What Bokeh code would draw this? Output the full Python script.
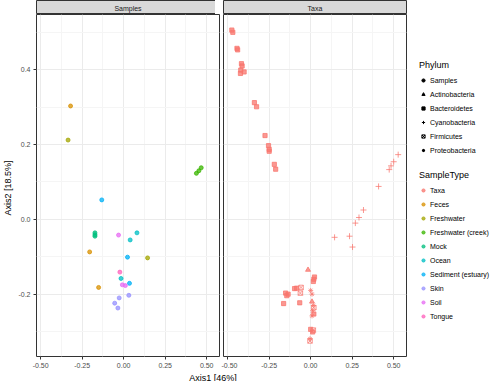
from bokeh.plotting import figure
from bokeh.models import Range1d, FixedTicker, Label, Legend, LegendItem, PrintfTickFormatter
from bokeh.layouts import row, column
from bokeh.embed import file_html
from bokeh.resources import INLINE

FONT = "Liberation Sans"
NAN = float("nan")

# ---- categories -------------------------------------------------------
sample_types = ["Taxa", "Feces", "Freshwater", "Freshwater (creek)", "Mock", "Ocean",
                "Sediment (estuary)", "Skin", "Soil", "Tongue"]
type_colors = ["#F8766D", "#D89000", "#A3A500", "#39B600", "#00BF7D", "#00BFC4",
               "#00B0F6", "#9590FF", "#E76BF3", "#FF62BC"]
phyla = ["Samples", "Actinobacteria", "Bacteroidetes", "Cyanobacteria", "Firmicutes", "Proteobacteria"]
phylum_markers = ["circle", "triangle", "square", "cross", "square_x", "asterisk"]

# ---- Samples panel ----------------------------------------------------
sample_x = [-0.320, -0.205, -0.151, -0.335, 0.144, 0.438, 0.453, 0.467,
            -0.173, -0.173, -0.173, 0.080, 0.039, -0.016, -0.132, 0.023, 0.035,
            0.031, -0.027, -0.054, -0.035, -0.031, -0.008, 0.010, -0.023]
sample_y = [0.303, -0.087, -0.182, 0.212, -0.103, 0.123, 0.130, 0.138,
            -0.036, -0.041, -0.045, -0.036, -0.055, -0.158, 0.052, -0.101, -0.171,
            -0.203, -0.210, -0.224, -0.237, -0.042, -0.175, -0.177, -0.141]
sample_type = ["Feces", "Feces", "Feces", "Freshwater", "Freshwater",
               "Freshwater (creek)", "Freshwater (creek)", "Freshwater (creek)",
               "Mock", "Mock", "Mock", "Ocean", "Ocean", "Ocean",
               "Sediment (estuary)", "Sediment (estuary)", "Sediment (estuary)",
               "Skin", "Skin", "Skin", "Skin", "Soil", "Soil", "Soil", "Tongue"]

# ---- Taxa panel -------------------------------------------------------
taxa_x = [-0.475, -0.469, -0.444, -0.440, -0.417, -0.413, -0.421, -0.423, -0.401,
          -0.339, -0.326, -0.275, -0.254, -0.250, -0.250, -0.219, -0.211,
          0.527, 0.500, 0.484, 0.473, 0.409, 0.318, 0.291, 0.269, 0.144, 0.234, 0.252,
          -0.016, 0.023, 0.019, 0.016, -0.097, -0.085, -0.058, -0.062, 0.000, 0.008,
          -0.151, -0.144, -0.136, -0.163, -0.066, 0.008, 0.016, 0.019, 0.012, 0.019,
          0.008, 0.000, 0.016, 0.012, -0.004, -0.004]
taxa_y = [0.506, 0.500, 0.457, 0.453, 0.416, 0.410, 0.399, 0.390, 0.394,
          0.312, 0.301, 0.224, 0.197, 0.187, 0.182, 0.147, 0.134,
          0.173, 0.154, 0.143, 0.133, 0.088, 0.025, 0.005, -0.010, -0.048, -0.045, -0.074,
          -0.135, -0.154, -0.160, -0.166, -0.185, -0.184, -0.182, -0.197, -0.190, -0.200,
          -0.197, -0.204, -0.200, -0.225, -0.223, -0.220, -0.230, -0.236, -0.244, -0.253,
          -0.258, -0.294, -0.296, -0.301, -0.319, -0.325]
taxa_phylum = (["Bacteroidetes"] * 17 + ["Cyanobacteria"] * 11 +
               ["Actinobacteria", "Bacteroidetes", "Bacteroidetes", "Bacteroidetes",
                "Bacteroidetes", "Bacteroidetes", "Firmicutes", "Firmicutes",
                "Proteobacteria", "Proteobacteria", "Bacteroidetes", "Bacteroidetes",
                "Bacteroidetes", "Bacteroidetes", "Bacteroidetes", "Actinobacteria",
                "Proteobacteria", "Firmicutes", "Proteobacteria", "Bacteroidetes",
                "Proteobacteria", "Bacteroidetes", "Firmicutes", "Bacteroidetes",
                "Proteobacteria", "Firmicutes"])

x_ticks = [-0.5, -0.25, 0.0, 0.25, 0.5]
x_minor = [-0.375, -0.125, 0.125, 0.375]
y_ticks = [-0.2, 0.0, 0.2, 0.4]
y_minor = [-0.3, -0.1, 0.1, 0.3, 0.5]

x_title = "Axis1   [46%]"
y_title = "Axis2   [18.5%]"

# ---- shared ranges (ggplot 5% expansion) ------------------------------
all_x = sample_x + taxa_x
all_y = sample_y + taxa_y
px = 0.05 * (max(all_x) - min(all_x))
py = 0.05 * (max(all_y) - min(all_y))
xr = Range1d(min(all_x) - px, max(all_x) + px)
yr = Range1d(min(all_y) - py, max(all_y) + py)

FW, FH = 183, 342
LB = 30
SH = 14          # strip height
BB = 13          # bottom axis border
ALPHA = 0.75
color_of = dict(zip(sample_types, type_colors))
marker_of = dict(zip(phyla, phylum_markers))
size_of = {"circle": 4, "triangle": 5, "square": 4.2, "cross": 6, "square_x": 4.5, "asterisk": 5}


def make_panel(show_y):
    p = figure(frame_width=FW, frame_height=FH, x_range=xr, y_range=yr,
               output_backend="svg", toolbar_location=None, tools="", title=None,
               min_border_left=LB if show_y else 2, min_border_right=2,
               min_border_top=0, min_border_bottom=BB)
    p.background_fill_color = "white"
    p.border_fill_color = "white"
    p.outline_line_color = "#333333"
    p.outline_line_width = 1
    xt = FixedTicker(ticks=x_ticks, minor_ticks=x_minor)
    yt = FixedTicker(ticks=y_ticks, minor_ticks=y_minor)
    p.xaxis.ticker = xt
    p.yaxis.ticker = yt
    p.xgrid.ticker = xt
    p.ygrid.ticker = yt
    for g in (p.xgrid, p.ygrid):
        g.grid_line_color = "#EBEBEB"
        g.grid_line_width = 1
        g.minor_grid_line_color = "#F5F5F5"
        g.minor_grid_line_width = 1
    p.xaxis.formatter = PrintfTickFormatter(format="%.2f")
    p.yaxis.formatter = PrintfTickFormatter(format="%.1f")
    for ax in (p.xaxis[0], p.yaxis[0]):
        ax.axis_line_color = None
        ax.major_tick_line_color = "#333333"
        ax.major_tick_out = 3
        ax.major_tick_in = 0
        ax.minor_tick_line_color = None
        ax.major_label_text_font = FONT
        ax.major_label_text_font_size = "7px"
        ax.major_label_text_color = "#4D4D4D"
        ax.major_label_standoff = 2
    if show_y:
        p.yaxis.axis_label = y_title
        p.yaxis.axis_label_text_font = FONT
        p.yaxis.axis_label_text_font_size = "9px"
        p.yaxis.axis_label_text_font_style = "normal"
        p.yaxis.axis_label_text_color = "#000000"
        p.yaxis.axis_label_standoff = 2
    else:
        p.yaxis.visible = False
    return p


def make_strip(text, left):
    s = figure(frame_width=FW, frame_height=SH, x_range=Range1d(0, 1), y_range=Range1d(0, 1),
               x_axis_type=None, y_axis_type=None, output_backend="svg",
               toolbar_location=None, tools="", title=None,
               min_border_left=left, min_border_right=2, min_border_top=0, min_border_bottom=0)
    s.background_fill_color = "#D9D9D9"
    s.border_fill_color = "white"
    s.outline_line_color = "#333333"
    s.add_layout(Label(x=0.5, y=0.45, text=text, text_align="center", text_baseline="middle",
                       text_font=FONT, text_font_size="7px", text_color="#1A1A1A"))
    return s


# ---- left panel: samples ------------------------------------------------
left = make_panel(True)
left.scatter(x=sample_x, y=sample_y, marker="circle", size=size_of["circle"],
             color=[color_of[t] for t in sample_type], alpha=ALPHA)

# ---- right panel: taxa ----------------------------------------------------
right = make_panel(False)
for ph in phyla[1:]:
    xs = [x for x, q in zip(taxa_x, taxa_phylum) if q == ph]
    ys = [y for y, q in zip(taxa_y, taxa_phylum) if q == ph]
    m = marker_of[ph]
    hollow = m in ("cross", "square_x", "asterisk")
    right.scatter(x=xs, y=ys, marker=m, size=size_of[m],
                  line_color=color_of["Taxa"], line_alpha=ALPHA, line_width=1,
                  fill_color=None if hollow else color_of["Taxa"], fill_alpha=ALPHA)

strip_l = make_strip("Samples", LB)
strip_r = make_strip("Taxa", 2)

# ---- legend figure ------------------------------------------------------
LH = SH + FH + BB
lf = figure(frame_width=82, frame_height=LH, x_range=Range1d(0, 1), y_range=Range1d(0, 1),
            x_axis_type=None, y_axis_type=None, output_backend="svg",
            toolbar_location=None, tools="", title=None,
            min_border_left=0, min_border_right=0, min_border_top=0, min_border_bottom=0)
lf.outline_line_color = None
lf.background_fill_color = "white"

# legend-only renderers (a single NaN point, so nothing is drawn in the frame)
ph_items = []
for ph in phyla:
    m = marker_of[ph]
    hollow = m in ("cross", "square_x", "asterisk")
    r = lf.scatter(x=[NAN], y=[NAN], marker=m, size=size_of[m], line_color="black",
                   fill_color=None if hollow else "black")
    ph_items.append(LegendItem(label=ph, renderers=[r]))

st_items = []
for t in sample_types:
    r = lf.scatter(x=[NAN], y=[NAN], marker="circle", size=size_of["circle"],
                   color=color_of[t], alpha=ALPHA)
    st_items.append(LegendItem(label=t, renderers=[r]))


def style_legend(leg):
    leg.border_line_color = None
    leg.background_fill_alpha = 0
    leg.label_text_font = FONT
    leg.label_text_font_size = "7px"
    leg.label_text_color = "#000000"
    leg.title_text_font = FONT
    leg.title_text_font_size = "9px"
    leg.title_text_font_style = "normal"
    leg.title_text_color = "#000000"
    leg.glyph_width = 8
    leg.glyph_height = 8
    leg.label_height = 14
    leg.label_standoff = 3
    leg.spacing = 0
    leg.padding = 0
    leg.margin = 0
    leg.title_standoff = 3


# location y = distance of the legend's bottom edge above the frame bottom
bottom1, bottom2 = 157, 323
leg1 = Legend(items=ph_items, title="Phylum", location=(11, LH - bottom1))
leg2 = Legend(items=st_items, title="SampleType", location=(11, LH - bottom2))
style_legend(leg1)
style_legend(leg2)
lf.add_layout(leg1)
lf.add_layout(leg2)

# ---- bottom axis title ---------------------------------------------------
TW = (LB + FW + 2) + (2 + FW + 2) + 82
bt = figure(frame_width=TW, frame_height=11, x_range=Range1d(0, 1), y_range=Range1d(0, 1),
            x_axis_type=None, y_axis_type=None, output_backend="svg",
            toolbar_location=None, tools="", title=None,
            min_border_left=0, min_border_right=0, min_border_top=0, min_border_bottom=0)
bt.outline_line_color = None
center = (LB + (LB + FW + 2 + 2 + FW)) / 2
bt.add_layout(Label(x=center, y=5, x_units="screen", y_units="screen", text=x_title,
                    text_align="center", text_baseline="middle", text_font=FONT,
                    text_font_size="9px", text_color="#000000"))

layout = column(row(column(strip_l, left), column(strip_r, right), lf), bt)

open("out.html", "w").write(file_html(layout, INLINE))
